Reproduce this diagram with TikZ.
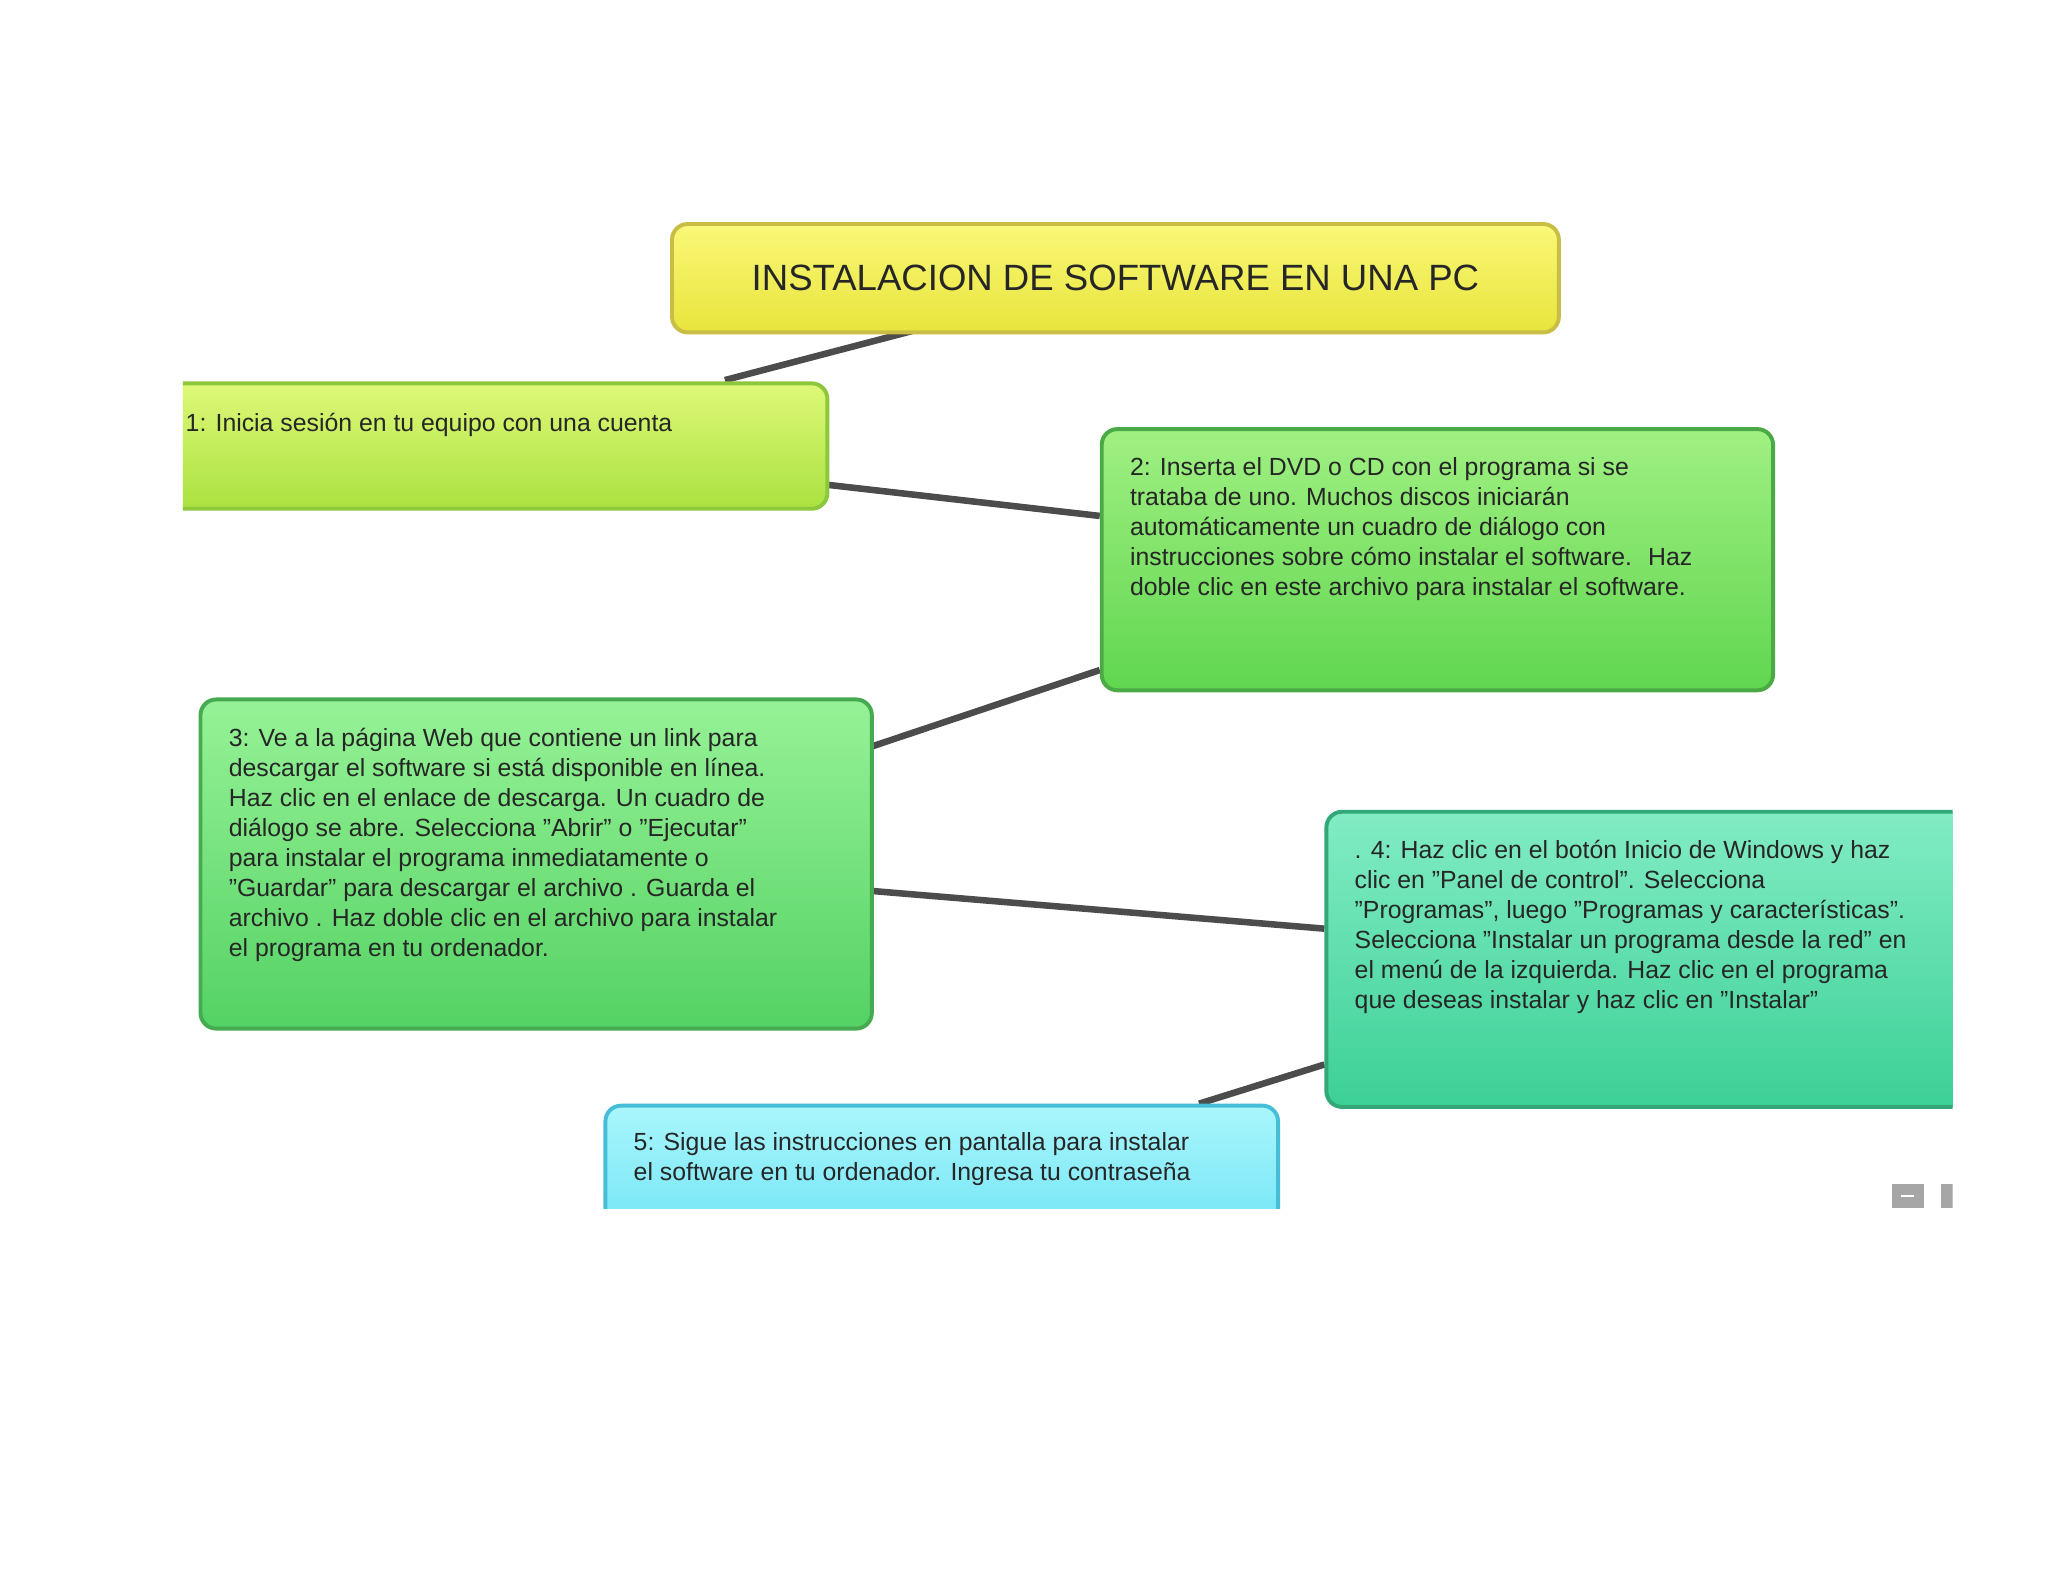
\documentclass[tikz,border=0pt]{standalone}
\usepackage{fontspec}
\setmainfont{Liberation Sans}
\begin{document}
\begin{tikzpicture}[x=1pt,y=-1pt,
  box/.style={rectangle,rounded corners=12pt,line width=3pt,inner sep=0pt,anchor=north west},
  txt/.style={anchor=north west,inner sep=0pt,align=left,font=\fontsize{19}{23}\selectfont,text=black!85},
  link/.style={draw=black!70,line width=5pt}]
\useasboundingbox (0,0) rectangle (1568,1211);
\fill[white] (0,0) rectangle (1568,1211);
\begin{scope}
\clip (140,0) rectangle (1495,925);
% connectors
\coordinate (c1a) at (700,253); \coordinate (c1b) at (555,291);
\coordinate (c2a) at (632,371); \coordinate (c2b) at (842,395);
\coordinate (c3a) at (842,513); \coordinate (c3b) at (666,572);
\coordinate (c4a) at (666,682); \coordinate (c4b) at (1014,711);
\coordinate (c5a) at (1014,815); \coordinate (c5b) at (918,845);
\draw[link] (c1a) -- (c1b);
\draw[link] (c2a) -- (c2b);
\draw[link] (c3a) -- (c3b);
\draw[link] (c4a) -- (c4b);
\draw[link] (c5a) -- (c5b);
% boxes
\node[box,draw={rgb,255:red,200;green,190;blue,70},top color={rgb,255:red,250;green,248;blue,120},bottom color={rgb,255:red,232;green,228;blue,60},minimum width=679pt,minimum height=83pt] (title) at (513,170) {};
\node[txt,font=\fontsize{28}{32}\selectfont,anchor=center] (titlet) at (title.center) {INSTALACION DE SOFTWARE EN UNA PC};
\node[box,draw={rgb,255:red,140;green,200;blue,60},top color={rgb,255:red,222;green,248;blue,120},bottom color={rgb,255:red,170;green,226;blue,64},minimum width=552pt,minimum height=96pt] (b1) at (80,292) {};
\node[txt] (t1) at (142,316) {1: Inicia sesión en tu equipo con una cuenta};
\node[box,draw={rgb,255:red,76;green,170;blue,70},top color={rgb,255:red,160;green,240;blue,130},bottom color={rgb,255:red,96;green,214;blue,80},minimum width=514pt,minimum height=200pt] (b2) at (842,327) {};
\node[txt] (t2) at (865,350) {2: Inserta el DVD o CD con el programa si se\\trataba de uno. Muchos discos iniciarán\\automáticamente un cuadro de diálogo con\\instrucciones sobre cómo instalar el software.~ Haz\\doble clic en este archivo para instalar el software.};
\node[box,draw={rgb,255:red,70;green,170;blue,80},top color={rgb,255:red,150;green,242;blue,150},bottom color={rgb,255:red,84;green,210;blue,100},minimum width=514pt,minimum height=252pt] (b3) at (152,534) {};
\node[txt] (t3) at (175,557) {3: Ve a la página Web que contiene un link para\\descargar el software si está disponible en línea.\\Haz clic en el enlace de descarga. Un cuadro de\\diálogo se abre. Selecciona "Abrir" o "Ejecutar"\\para instalar el programa inmediatamente o\\"Guardar" para descargar el archivo . Guarda el\\archivo . Haz doble clic en el archivo para instalar\\el programa en tu ordenador.};
\node[box,draw={rgb,255:red,50;green,168;blue,120},top color={rgb,255:red,130;green,236;blue,196},bottom color={rgb,255:red,60;green,208;blue,150},minimum width=560pt,minimum height=226pt] (b4) at (1014,620) {};
\node[txt] (t4) at (1037,643) {. 4: Haz clic en el botón Inicio de Windows y haz\\clic en "Panel de control". Selecciona\\"Programas", luego "Programas y características".\\Selecciona "Instalar un programa desde la red" en\\el menú de la izquierda. Haz clic en el programa\\que deseas instalar y haz clic en "Instalar"};
\node[box,draw={rgb,255:red,70;green,190;blue,215},top color={rgb,255:red,170;green,246;blue,252},bottom color={rgb,255:red,90;green,222;blue,242},minimum width=515pt,minimum height=140pt] (b5) at (462,845) {};
\node[txt] (t5) at (485,867) {5: Sigue las instrucciones en pantalla para instalar\\el software en tu ordenador. Ingresa tu contraseña};
\node[fill=black!35,minimum width=25pt,minimum height=19pt,inner sep=0pt,anchor=north west] (ic1) at (1448,906) {};
\node[fill=white,minimum width=10pt,minimum height=2pt,inner sep=0pt] (ic1m) at (ic1.center) {};
\node[fill=black!35,minimum width=25pt,minimum height=19pt,inner sep=0pt,anchor=north west] (ic2) at (1486,906) {};
\end{scope}
\end{tikzpicture}
\end{document}
